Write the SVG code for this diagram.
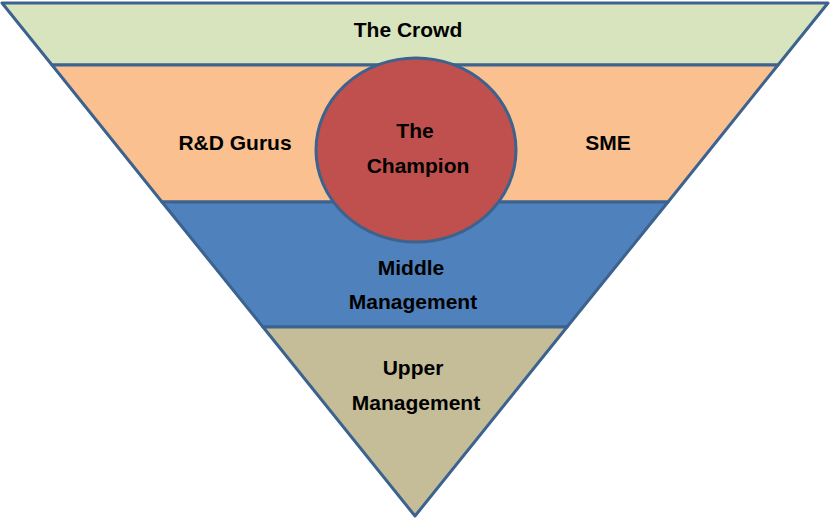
<svg xmlns="http://www.w3.org/2000/svg" width="831" height="519" viewBox="0 0 831 519">
<style>
.b{stroke:#3C628F;stroke-width:3;stroke-linejoin:round}
.t{font-family:"Liberation Sans",Arial,sans-serif;font-weight:bold;font-size:21px;fill:#000;text-anchor:middle}
</style>
<rect width="831" height="519" fill="#fff"/>
<g id="crowd"><polygon class="b" fill="#D7E4BD" points="2,3 828,3 778,65 52,65"/><text class="t" x="408" y="37">The Crowd</text></g>
<g id="middle-band"><polygon class="b" fill="#FAC090" points="52,65 778,65 668,202 162,202"/>
<text class="t" x="235" y="150">R&amp;D Gurus</text><text class="t" x="608" y="150">SME</text></g>
<g id="middle-management"><polygon class="b" fill="#4F81BD" points="162,202 668,202 567,327 263,327"/>
<text class="t" x="411" y="275">Middle</text><text class="t" x="413" y="309">Management</text></g>
<g id="upper-management"><polygon class="b" fill="#C4BD97" points="263,327 567,327 415,516"/>
<text class="t" x="413" y="375">Upper</text><text class="t" x="416" y="410">Management</text></g>
<g id="champion"><ellipse cx="416" cy="150" rx="100" ry="92" fill="#C0504D" stroke="#3C628F" stroke-width="3"/>
<text class="t" x="415" y="138">The</text><text class="t" x="418" y="173">Champion</text></g>
</svg>
